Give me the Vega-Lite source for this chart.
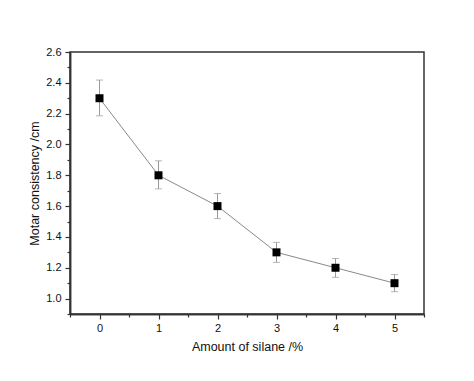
{
  "$schema": "https://vega.github.io/schema/vega-lite/v6.json",
  "autosize": "none",
  "padding": {"left": 70, "top": 52, "right": 50, "bottom": 67},
  "width": 354,
  "height": 262,
  "background": "white",
  "config": {
    "view": {"stroke": "#333", "strokeWidth": 1.5},
    "font": "Liberation Sans",
    "axis": {"grid": false, "domainColor": "#333", "domainWidth": 1.5, "tickColor": "#333", "tickWidth": 1.2, "labelFont": "Liberation Sans", "titleFont": "Liberation Sans", "labelColor": "#111", "titleColor": "#111", "labelFontSize": 11, "titleFontSize": 12.5, "titleFontWeight": "normal"}
  },
  "data": {"values": [
    {"x": 0, "y": 2.3, "lo": 2.186, "hi": 2.418},
    {"x": 1, "y": 1.8, "lo": 1.712, "hi": 1.894},
    {"x": 2, "y": 1.6, "lo": 1.519, "hi": 1.682},
    {"x": 3, "y": 1.3, "lo": 1.235, "hi": 1.365},
    {"x": 4, "y": 1.2, "lo": 1.138, "hi": 1.26},
    {"x": 5, "y": 1.1, "lo": 1.045, "hi": 1.156}
  ]},
  "resolve": {"axis": {"x": "independent", "y": "independent"}},
  "layer": [
    {
      "mark": {"type": "rule", "color": "#999", "strokeWidth": 1},
      "encoding": {
        "x": {"field": "x", "type": "quantitative", "scale": {"domain": [-0.5, 5.5], "nice": false, "zero": false},
          "axis": {"orient": "bottom", "values": [-0.5, 0.5, 1.5, 2.5, 3.5, 4.5, 5.5], "labels": false, "tickSize": 3, "title": null, "domain": true}},
        "y": {"field": "lo", "type": "quantitative", "scale": {"domain": [0.9, 2.6], "nice": false, "zero": false},
          "axis": {"orient": "left", "values": [0.9, 1.1, 1.3, 1.5, 1.7, 1.9, 2.1, 2.3, 2.5], "labels": false, "tickSize": 3, "title": null, "domain": true}},
        "y2": {"field": "hi"}
      }
    },
    {
      "mark": {"type": "tick", "color": "#999", "thickness": 1, "size": 7, "orient": "horizontal"},
      "encoding": {
        "x": {"field": "x", "type": "quantitative", "axis": null},
        "y": {"field": "lo", "type": "quantitative", "axis": null}
      }
    },
    {
      "mark": {"type": "tick", "color": "#999", "thickness": 1, "size": 7, "orient": "horizontal"},
      "encoding": {
        "x": {"field": "x", "type": "quantitative", "axis": null},
        "y": {"field": "hi", "type": "quantitative", "axis": null}
      }
    },
    {
      "mark": {"type": "line", "color": "#888", "strokeWidth": 1},
      "encoding": {
        "x": {"field": "x", "type": "quantitative", "axis": null},
        "y": {"field": "y", "type": "quantitative", "axis": null}
      }
    },
    {
      "mark": {"type": "square", "color": "#000", "opacity": 1, "filled": true, "size": 64},
      "encoding": {
        "x": {"field": "x", "type": "quantitative",
          "axis": {"orient": "bottom", "values": [0, 1, 2, 3, 4, 5], "format": "d", "tickSize": 5, "labelPadding": 3, "title": "Amount of silane /%", "titlePadding": 7}},
        "y": {"field": "y", "type": "quantitative",
          "axis": {"orient": "left", "values": [1.0, 1.2, 1.4, 1.6, 1.8, 2.0, 2.2, 2.4, 2.6], "format": ".1f", "tickSize": 5, "labelPadding": 4, "title": "Motar consistency /cm", "titlePadding": 4}}
      }
    }
  ]
}
